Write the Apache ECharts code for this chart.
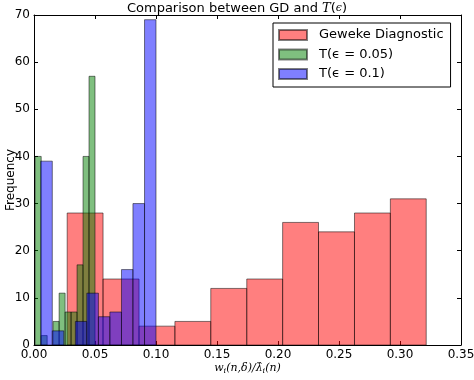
<!DOCTYPE html>
<html>
<head>
<meta charset="utf-8">
<script src="https://cdn.jsdelivr.net/npm/echarts@6/dist/echarts.min.js"></script>
<style>html,body{margin:0;padding:0;background:#fff;}#c{width:474px;height:380px;}</style>
</head>
<body>
<div id="c"></div>
<script>
// Bin edges and counts
const gewekeEdges = [0.0272, 0.0566, 0.0861, 0.1155, 0.1449, 0.1744, 0.2038, 0.2332, 0.2627, 0.2921, 0.3215];
const gewekeCounts = [28, 14, 4, 5, 12, 14, 26, 24, 28, 31];
const t005Edges = [0.0010, 0.0059, 0.0108, 0.0157, 0.0206, 0.0255, 0.0304, 0.0353, 0.0402, 0.0451, 0.0500];
const t005Counts = [40, 2, 0, 5, 11, 7, 7, 17, 40, 57];
const t01Edges = [0.0055, 0.0150, 0.0244, 0.0339, 0.0433, 0.0528, 0.0622, 0.0717, 0.0811, 0.0906, 0.1000];
const t01Counts = [39, 3, 0, 5, 11, 6, 7, 16, 30, 69];
const seriesNames = ['Geweke Diagnostic', 'T(\u03f5 = 0.05)', 'T(\u03f5 = 0.1)'];

function toBins(edges, counts) {
  return counts.map((c, i) => [edges[i], edges[i + 1], c]);
}
function renderBar(params, api) {
  const h = api.value(2);
  if (!h) return null;
  const p0 = api.coord([api.value(0), h]);
  const p1 = api.coord([api.value(1), 0]);
  return {
    type: 'rect',
    shape: { x: p0[0], y: p0[1], width: p1[0] - p0[0], height: p1[1] - p0[1] },
    style: api.style()
  };
}
const colors = ['rgba(255,0,0,0.5)', 'rgba(0,128,0,0.5)', 'rgba(0,0,255,0.5)'];
const datasets = [toBins(gewekeEdges, gewekeCounts), toBins(t005Edges, t005Counts), toBins(t01Edges, t01Counts)];

const font = 'DejaVu Sans';
const axisCommon = {
  axisLine: { show: true, onZero: false, lineStyle: { color: '#000', width: 1 } },
  axisTick: { show: true, inside: true, length: 4, lineStyle: { color: '#000' } },
  splitLine: { show: false }
};
const chart = echarts.init(document.getElementById('c'), null, { renderer: 'canvas' });
chart.setOption({
  animation: false,
  backgroundColor: '#fff',
  title: {
    text: '{a|Comparison between GD and }{b|T}{a|(}{c|\u03f5}{a|)}',
    left: 'center',
    top: -3,
    textStyle: {
      rich: {
        a: { fontFamily: font, fontSize: 13, fontWeight: 'normal', color: '#000' },
        b: { fontFamily: 'DejaVu Serif', fontStyle: 'italic', fontWeight: 'normal', fontSize: 13, color: '#000' },
        c: { fontFamily: 'DejaVu Serif', fontStyle: 'italic', fontWeight: 'normal', fontSize: 11, color: '#000' }
      }
    }
  },
  legend: {
    orient: 'vertical',
    left: 273,
    top: 23,
    data: seriesNames,
    itemWidth: 28,
    itemHeight: 10,
    itemGap: 3.5,
    padding: [4, 7, 5, 5],
    borderColor: '#000',
    borderWidth: 1,
    borderRadius: 0,
    icon: 'rect',
    textStyle: { fontFamily: font, fontSize: 13, color: '#000', lineHeight: 16, padding: [0, 0, 0, 7] }
  },
  grid: { left: 34, right: 13, top: 15, bottom: 35, outerBoundsMode: 'none', containLabel: false },
  xAxis: [
    Object.assign({}, axisCommon, {
      type: 'value', min: 0, max: 0.35, interval: 0.05, position: 'bottom',
      axisLabel: { fontFamily: font, fontSize: 12, color: '#000', margin: 4, formatter: v => v.toFixed(2) },
      name: '{i|w}{s|i}{i|(n,\u03b4)/}{i|\u03bb\u0302}{s|i}{i|(n)}',
      nameLocation: 'middle', nameGap: 16, nameMoveOverlap: false,
      nameTextStyle: {
        rich: {
          i: { fontFamily: 'DejaVu Serif', fontStyle: 'italic', fontSize: 11, color: '#000' },
          s: { fontFamily: 'DejaVu Serif', fontStyle: 'italic', fontSize: 8, color: '#000', padding: [6, 0, 0, 0] }
        }
      }
    }),
    Object.assign({}, axisCommon, {
      type: 'value', min: 0, max: 0.35, interval: 0.05, position: 'top',
      axisLabel: { show: false }
    })
  ],
  yAxis: [
    Object.assign({}, axisCommon, {
      type: 'value', min: 0, max: 70, interval: 10, position: 'left',
      axisLabel: { fontFamily: font, fontSize: 12, color: '#000', margin: 4 },
      name: 'Frequency', nameLocation: 'middle', nameGap: 17, nameMoveOverlap: false,
      nameTextStyle: { fontFamily: font, fontSize: 12, color: '#000' }
    }),
    Object.assign({}, axisCommon, {
      type: 'value', min: 0, max: 70, interval: 10, position: 'right',
      axisLabel: { show: false }
    })
  ],
  series: seriesNames.map((name, k) => ({
    name: name,
    type: 'custom',
    xAxisIndex: 0,
    yAxisIndex: 0,
    renderItem: renderBar,
    encode: { x: [0, 1], y: 2 },
    itemStyle: { color: colors[k], borderColor: 'rgba(0,0,0,0.5)', borderWidth: 1 },
    data: datasets[k],
    z: 2 + k
  }))
});
</script>
</body>
</html>
